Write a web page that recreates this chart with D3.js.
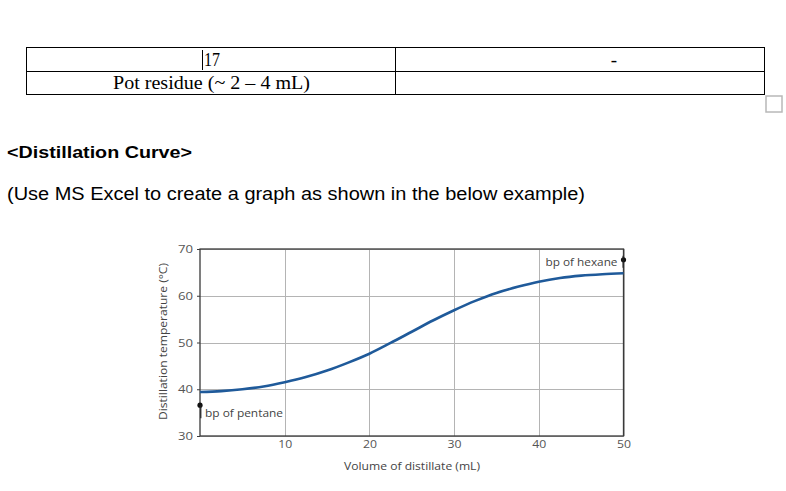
<!DOCTYPE html>
<html><head><meta charset="utf-8">
<script src="https://cdn.jsdelivr.net/npm/d3@7"></script>
<style>body{margin:0;background:#fff;}svg{display:block;}</style>
</head><body>
<svg id="c" width="786" height="491"></svg>
<script>
// Data
const volumes = [0, 2.5, 5, 7.5, 10, 12.5, 15, 17.5, 20, 22.5, 25, 27.5, 30, 32.5, 35, 37.5, 40, 42.5, 45, 47.5, 50];
const temps = [39.4, 39.6, 40.0, 40.6, 41.5, 42.6, 44.0, 45.7, 47.6, 49.9, 52.3, 54.7, 56.9, 58.9, 60.6, 61.9, 63.0, 63.8, 64.3, 64.6, 64.8];
const bpLabels = ["bp of pentane", "bp of hexane"];
const bpVolumes = [0, 50];
const bpTemps = [36.6, 67.7];
const xTicks = [10, 20, 30, 40, 50];
const yTicks = [30, 40, 50, 60, 70];
const tableRows = [["17", "-"], ["Pot residue (~ 2 \u2013 4 mL)", ""]];

const svg = d3.select("#c");

// Table
const tx = [26, 395, 764], ty = [47, 71, 94];
const tg = svg.append("g");
tg.append("rect").attr("x", tx[0] + 0.5).attr("y", ty[0] + 0.5).attr("width", tx[2] - tx[0]).attr("height", ty[2] - ty[0])
  .attr("fill", "none").attr("stroke", "#000");
tg.append("line").attr("x1", tx[0]).attr("x2", tx[2]).attr("y1", ty[1] + 0.5).attr("y2", ty[1] + 0.5).attr("stroke", "#000");
tg.append("line").attr("x1", tx[1] + 0.5).attr("x2", tx[1] + 0.5).attr("y1", ty[0]).attr("y2", ty[2]).attr("stroke", "#000");
const serif = "Liberation Serif";
// row 1
tg.append("text").attr("x", 204).attr("y", 65.5).attr("font-family", serif).attr("font-size", 19)
  .attr("textLength", 16).attr("lengthAdjust", "spacingAndGlyphs").text(tableRows[0][0]);
tg.append("text").attr("x", 614).attr("y", 65.5).attr("text-anchor", "middle").attr("font-family", serif).attr("font-size", 19)
  .text(tableRows[0][1]);
// row 2
tg.append("text").attr("x", 113).attr("y", 88.5).attr("font-family", serif).attr("font-size", 18)
  .attr("textLength", 197).attr("lengthAdjust", "spacingAndGlyphs").text(tableRows[1][0]);
tg.append("text").attr("x", 579).attr("y", 88.5).attr("text-anchor", "middle").attr("font-family", serif).attr("font-size", 18)
  .text(tableRows[1][1]);
// cursor
tg.append("line").attr("x1", 202.5).attr("x2", 202.5).attr("y1", 50).attr("y2", 70).attr("stroke", "#000").attr("stroke-width", 1);
// checkbox
svg.append("rect").attr("x", 766).attr("y", 96).attr("width", 16).attr("height", 16)
  .attr("fill", "none").attr("stroke", "#b8b8b8").attr("stroke-width", 1.5);

// Headings
svg.append("text").attr("x", 7).attr("y", 157.5).attr("font-family", "Liberation Sans").attr("font-weight", "bold")
  .attr("font-size", 16.5).attr("textLength", 185).attr("lengthAdjust", "spacingAndGlyphs")
  .attr("fill", "#000").text("<Distillation Curve>");
svg.append("text").attr("x", 7).attr("y", 200).attr("font-family", "Liberation Sans")
  .attr("font-size", 17.5).attr("textLength", 578).attr("lengthAdjust", "spacingAndGlyphs")
  .attr("fill", "#000").text("(Use MS Excel to create a graph as shown in the below example)");

// Chart
const x = d3.scaleLinear().domain([0, 50]).range([200, 623.5]);
const y = d3.scaleLinear().domain([30, 70]).range([436, 249]);
const font = "Open Sans";
const g = svg.append("g");

// grid
g.selectAll(".vg").data(xTicks).enter().append("line")
  .attr("x1", d => Math.round(x(d)) + 0.5).attr("x2", d => Math.round(x(d)) + 0.5)
  .attr("y1", y(70)).attr("y2", y(30)).attr("stroke", "#b4b4b4").attr("stroke-width", 1);
g.selectAll(".hg").data(yTicks).enter().append("line")
  .attr("x1", x(0)).attr("x2", x(50))
  .attr("y1", d => Math.round(y(d)) + 0.5).attr("y2", d => Math.round(y(d)) + 0.5)
  .attr("stroke", "#b4b4b4").attr("stroke-width", 1);

// frame
g.append("rect").attr("x", x(0)).attr("y", y(70)).attr("width", x(50) - x(0)).attr("height", y(30) - y(70))
  .attr("fill", "none").attr("stroke", "#3a3a3a").attr("stroke-width", 1.3);

// axes
const xAxis = d3.axisBottom(x).tickValues(xTicks).tickSize(0).tickPadding(4);
const gx = g.append("g").attr("transform", `translate(0,${y(30)})`).call(xAxis);
gx.select(".domain").remove();
gx.selectAll("text").attr("font-family", font).attr("font-size", 11.5).attr("fill", "#555")
  .attr("textLength", 14).attr("lengthAdjust", "spacingAndGlyphs");

const yAxis = d3.axisLeft(y).tickValues(yTicks).tickSize(3).tickPadding(4);
const gy = g.append("g").attr("transform", `translate(${x(0)},0)`).call(yAxis);
gy.select(".domain").remove();
gy.selectAll("line").attr("stroke", "#3a3a3a");
gy.selectAll("text").attr("font-family", font).attr("font-size", 11.5).attr("fill", "#555")
  .attr("textLength", 15).attr("lengthAdjust", "spacingAndGlyphs");

// axis titles
g.append("text").attr("x", 344).attr("y", 470)
  .attr("font-family", font).attr("font-size", 11).attr("fill", "#444")
  .attr("textLength", 136).attr("lengthAdjust", "spacingAndGlyphs").text("Volume of distillate (mL)");
g.append("text").attr("transform", "translate(167,420) rotate(-90)")
  .attr("font-family", font).attr("font-size", 11).attr("fill", "#444")
  .attr("textLength", 157).attr("lengthAdjust", "spacingAndGlyphs").text("Distillation temperature (\u00B0C)");

// curve
const pts = volumes.map((v, i) => [v, temps[i]]);
g.append("path").datum(pts)
  .attr("d", d3.line().x(d => x(d[0])).y(d => y(d[1])).curve(d3.curveCatmullRom))
  .attr("fill", "none").attr("stroke", "#1f5a9a").attr("stroke-width", 2.6);

// bp markers
bpVolumes.forEach((v, i) => {
  const px = x(v), py = y(bpTemps[i]);
  g.append("circle").attr("cx", px).attr("cy", py).attr("r", 2.6).attr("fill", "#111");
  if (i === 0) {
    g.append("line").attr("x1", px + 0.8).attr("x2", px + 0.8).attr("y1", py).attr("y2", py + 13).attr("stroke", "#222").attr("stroke-width", 1.2);
    g.append("text").attr("x", px + 5).attr("y", py + 12).attr("font-family", font).attr("font-size", 11)
      .attr("textLength", 78).attr("lengthAdjust", "spacingAndGlyphs")
      .attr("fill", "#444").text(bpLabels[i]);
  } else {
    g.append("line").attr("x1", px - 0.5).attr("x2", px - 0.5).attr("y1", py - 4).attr("y2", py + 8).attr("stroke", "#222").attr("stroke-width", 1);
    g.append("text").attr("x", px - 78).attr("y", py + 6).attr("font-family", font).attr("font-size", 11)
      .attr("textLength", 72).attr("lengthAdjust", "spacingAndGlyphs")
      .attr("fill", "#444").text(bpLabels[i]);
  }
});
</script>
</body></html>
